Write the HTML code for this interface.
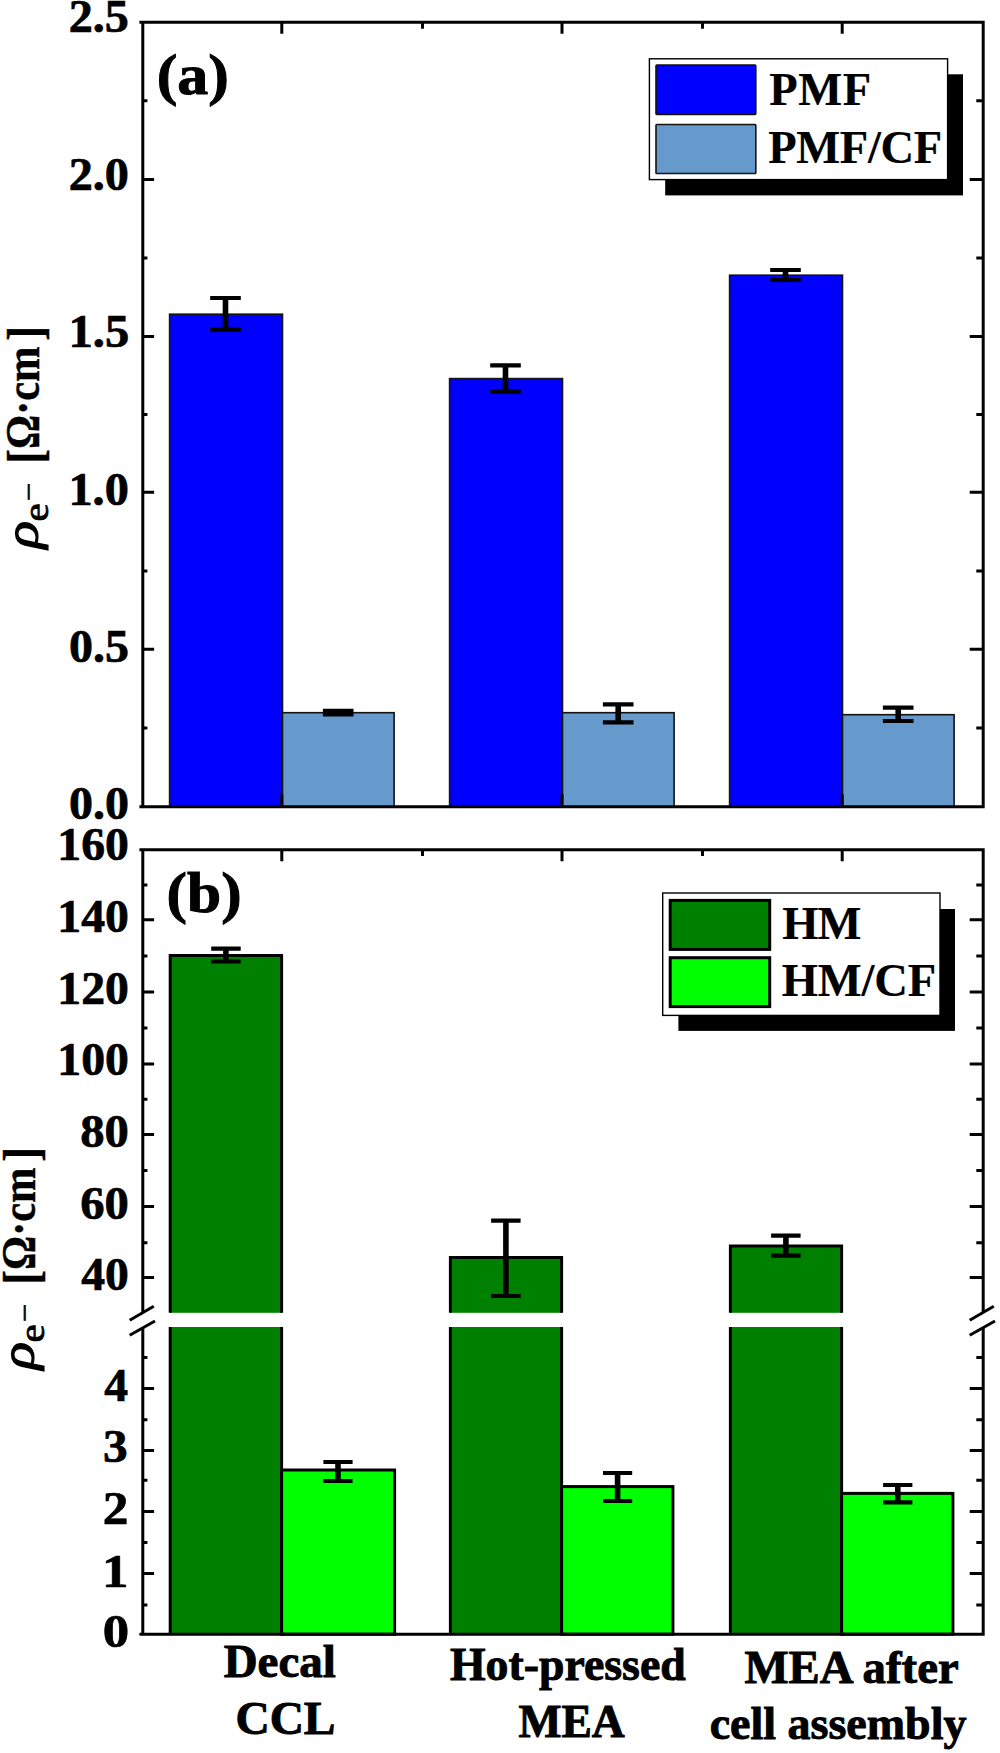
<!DOCTYPE html>
<html><head><meta charset="utf-8"><title>Electronic resistivity</title>
<style>
html,body{margin:0;padding:0;background:#fff;}
svg{display:block;}
text{font-family:"Liberation Serif", "DejaVu Serif", serif;font-weight:bold;fill:#000;}
</style></head><body>
<svg width="1000" height="1753" viewBox="0 0 1000 1753">
<rect x="0" y="0" width="1000" height="1753" fill="#fff"/>
<g id="panel-a">
<rect x="169.6" y="314.2" width="112.9" height="492.6" fill="#0000ff" stroke="#151210" stroke-width="1.6"/>
<rect x="282.5" y="712.7" width="111.6" height="94.1" fill="#6699cc" stroke="#151210" stroke-width="1.6"/>
<path d="M210.2 298.0H240.8M210.2 329.6H240.8" stroke="#000" stroke-width="4.2" fill="none"/><path d="M225.5 298.0V329.6" stroke="#000" stroke-width="5.6" fill="none"/>
<path d="M322.9 710.9H353.5M322.9 714.5H353.5" stroke="#000" stroke-width="4.2" fill="none"/><path d="M338.2 710.9V714.5" stroke="#000" stroke-width="5.6" fill="none"/>
<rect x="449.6" y="378.6" width="112.9" height="428.2" fill="#0000ff" stroke="#151210" stroke-width="1.6"/>
<rect x="562.5" y="712.7" width="111.6" height="94.1" fill="#6699cc" stroke="#151210" stroke-width="1.6"/>
<path d="M490.2 365.4H520.8M490.2 391.6H520.8" stroke="#000" stroke-width="4.2" fill="none"/><path d="M505.5 365.4V391.6" stroke="#000" stroke-width="5.6" fill="none"/>
<path d="M602.9 704.4H633.5M602.9 722.4H633.5" stroke="#000" stroke-width="4.2" fill="none"/><path d="M618.2 704.4V722.4" stroke="#000" stroke-width="5.6" fill="none"/>
<rect x="729.6" y="275.2" width="112.9" height="531.6" fill="#0000ff" stroke="#151210" stroke-width="1.6"/>
<rect x="842.5" y="714.7" width="111.6" height="92.1" fill="#6699cc" stroke="#151210" stroke-width="1.6"/>
<path d="M770.2 270.0H800.8M770.2 280.0H800.8" stroke="#000" stroke-width="4.2" fill="none"/><path d="M785.5 270.0V280.0" stroke="#000" stroke-width="5.6" fill="none"/>
<path d="M882.9 707.6H913.5M882.9 721.0H913.5" stroke="#000" stroke-width="4.2" fill="none"/><path d="M898.2 707.6V721.0" stroke="#000" stroke-width="5.6" fill="none"/>
<path d="M139.4 22.3H984.7M139.4 806.8H984.7M142.8 22.3V806.8M983.2 22.3V806.8" fill="none" stroke="#000" stroke-width="3.0"/>
<path d="M142.8 179.5H154.10000000000002M983.2 179.5H969.7M142.8 336.4H154.10000000000002M983.2 336.4H969.7M142.8 492.3H154.10000000000002M983.2 492.3H969.7M142.8 649.2H154.10000000000002M983.2 649.2H969.7M142.8 100.7H147.4M983.2 100.7H976.3000000000001M142.8 257.9H147.4M983.2 257.9H976.3000000000001M142.8 414.4H147.4M983.2 414.4H976.3000000000001M142.8 571.0H147.4M983.2 571.0H976.3000000000001M142.8 728.0H147.4M983.2 728.0H976.3000000000001M281.8 22.3V33.8M281.8 806.8V794.3M562 22.3V33.8M562 806.8V794.3M842.2 22.3V33.8M842.2 806.8V794.3M422.5 22.3V28.700000000000003M702.5 22.3V28.700000000000003" stroke="#000" stroke-width="3.0" fill="none"/>
<text transform="translate(68.70 32.45) scale(1.0593 1.0000)" font-size="45.5" stroke="#000" stroke-width="0.7">2.5</text>
<text transform="translate(68.70 189.60) scale(1.0596 1.0000)" font-size="45.5" stroke="#000" stroke-width="0.7">2.0</text>
<text transform="translate(68.45 347.10) scale(1.0680 1.0000)" font-size="45.5" stroke="#000" stroke-width="0.7">1.5</text>
<text transform="translate(68.45 505.00) scale(1.0616 1.0000)" font-size="45.5" stroke="#000" stroke-width="0.7">1.0</text>
<text transform="translate(68.95 662.00) scale(1.0544 1.0000)" font-size="45.5" stroke="#000" stroke-width="0.7">0.5</text>
<text transform="translate(68.95 818.55) scale(1.0546 1.0000)" font-size="45.5" stroke="#000" stroke-width="0.7">0.0</text>
<text transform="translate(156.65 94.45) scale(1.0770 1.0000)" font-size="57.5" stroke="#000" stroke-width="1.0">(a)</text>
<rect x="665.2" y="74.3" width="297.8" height="121.1" fill="#000"/>
<rect x="649.4" y="58.8" width="298.2" height="120.8" fill="#fff" stroke="#000" stroke-width="1.4"/>
<rect x="656" y="65.1" width="99.8" height="49.3" rx="0.8" fill="#0000ff" stroke="#151210" stroke-width="1.6"/>
<rect x="656" y="124.5" width="99.8" height="49" rx="0.8" fill="#6699cc" stroke="#151210" stroke-width="1.6"/>
<text transform="translate(769.25 105.00)" font-size="46.5" letter-spacing="0.625" stroke="#000" stroke-width="0.2">PMF</text>
<text transform="translate(768.25 162.60)" font-size="46.5" letter-spacing="-0.350" stroke="#000" stroke-width="0.2">PMF/CF</text>
</g>
<g id="panel-b">
<rect x="170.2" y="955.5" width="111.4" height="357.3" fill="#008000"/>
<rect x="170.2" y="1327.0" width="111.4" height="307.2" fill="#008000"/>
<path d="M170.2 1312.8V955.5H281.6V1312.8M170.2 1327.0V1634.2M281.6 1327.0V1634.2" fill="none" stroke="#000" stroke-width="3.0"/>
<rect x="281.6" y="1470" width="113.0" height="164.2" fill="#00ff00" stroke="#000" stroke-width="3.0"/>
<path d="M211.2 948.6H240.7M211.2 961.5H240.7" stroke="#000" stroke-width="4.2" fill="none"/><path d="M225.9 948.6V961.5" stroke="#000" stroke-width="5.6" fill="none"/>
<path d="M323.4 1462.0H352.6M323.4 1481.0H352.6" stroke="#000" stroke-width="4.2" fill="none"/><path d="M338.0 1462.0V1481.0" stroke="#000" stroke-width="5.6" fill="none"/>
<rect x="450.4" y="1257.4" width="111.2" height="55.4" fill="#008000"/>
<rect x="450.4" y="1327.0" width="111.2" height="307.2" fill="#008000"/>
<path d="M450.4 1312.8V1257.4H561.6V1312.8M450.4 1327.0V1634.2M561.6 1327.0V1634.2" fill="none" stroke="#000" stroke-width="3.0"/>
<rect x="561.6" y="1486.6" width="111.3" height="147.6" fill="#00ff00" stroke="#000" stroke-width="3.0"/>
<path d="M491.1 1220.6H520.6M491.1 1296.0H520.6" stroke="#000" stroke-width="4.2" fill="none"/><path d="M505.9 1220.6V1296.0" stroke="#000" stroke-width="5.6" fill="none"/>
<path d="M603.0 1473.0H632.2M603.0 1501.0H632.2" stroke="#000" stroke-width="4.2" fill="none"/><path d="M617.6 1473.0V1501.0" stroke="#000" stroke-width="5.6" fill="none"/>
<rect x="730.4" y="1246" width="111.2" height="66.8" fill="#008000"/>
<rect x="730.4" y="1327.0" width="111.2" height="307.2" fill="#008000"/>
<path d="M730.4 1312.8V1246H841.6V1312.8M730.4 1327.0V1634.2M841.6 1327.0V1634.2" fill="none" stroke="#000" stroke-width="3.0"/>
<rect x="841.6" y="1493.4" width="111.3" height="140.8" fill="#00ff00" stroke="#000" stroke-width="3.0"/>
<path d="M771.1 1235.6H800.6M771.1 1255.6H800.6" stroke="#000" stroke-width="4.2" fill="none"/><path d="M785.9 1235.6V1255.6" stroke="#000" stroke-width="5.6" fill="none"/>
<path d="M883.1 1485.0H912.4M883.1 1502.4H912.4" stroke="#000" stroke-width="4.2" fill="none"/><path d="M897.8 1485.0V1502.4" stroke="#000" stroke-width="5.6" fill="none"/>
<path d="M139.4 849.7H984.7M139.4 1634.2H984.7M142.8 849.7V1312.8M142.8 1327.0V1634.2M983.2 849.7V1312.8M983.2 1327.0V1634.2" fill="none" stroke="#000" stroke-width="3.0"/>
<path d="M129.7 1320.3L153.8 1306.2M129.7 1335.2L155 1321M969.7 1320.3L993.8 1306.2M969.7 1335.2L995 1321" stroke="#000" stroke-width="3" fill="none"/>
<path d="M142.8 919.8H154.10000000000002M983.2 919.8H969.7M142.8 991.9H154.10000000000002M983.2 991.9H969.7M142.8 1064.1H154.10000000000002M983.2 1064.1H969.7M142.8 1134.4H154.10000000000002M983.2 1134.4H969.7M142.8 1206.5H154.10000000000002M983.2 1206.5H969.7M142.8 1277.4H154.10000000000002M983.2 1277.4H969.7M142.8 1388.5H154.10000000000002M983.2 1388.5H969.7M142.8 1450.4H154.10000000000002M983.2 1450.4H969.7M142.8 1511.6H154.10000000000002M983.2 1511.6H969.7M142.8 1573.5H154.10000000000002M983.2 1573.5H969.7M142.8 885.0H147.4M983.2 885.0H976.3000000000001M142.8 956.0H147.4M983.2 956.0H976.3000000000001M142.8 1028.1H147.4M983.2 1028.1H976.3000000000001M142.8 1099.3H147.4M983.2 1099.3H976.3000000000001M142.8 1170.6H147.4M983.2 1170.6H976.3000000000001M142.8 1242.8H147.4M983.2 1242.8H976.3000000000001M142.8 1357.5H147.4M983.2 1357.5H976.3000000000001M142.8 1419.7H147.4M983.2 1419.7H976.3000000000001M142.8 1480.2H147.4M983.2 1480.2H976.3000000000001M142.8 1542.5H147.4M983.2 1542.5H976.3000000000001M142.8 1605.0H147.4M983.2 1605.0H976.3000000000001M281.8 849.7V861.2M562 849.7V861.2M842.2 849.7V861.2M422.5 849.7V856.1M702.5 849.7V856.1" stroke="#000" stroke-width="3.0" fill="none"/>
<text transform="translate(57.35 860.25) scale(1.0488 1.0000)" font-size="45.5" stroke="#000" stroke-width="0.7">160</text>
<text transform="translate(57.35 931.85) scale(1.0488 1.0000)" font-size="45.5" stroke="#000" stroke-width="0.7">140</text>
<text transform="translate(57.35 1004.25) scale(1.0488 1.0000)" font-size="45.5" stroke="#000" stroke-width="0.7">120</text>
<text transform="translate(57.35 1075.15) scale(1.0488 1.0000)" font-size="45.5" stroke="#000" stroke-width="0.7">100</text>
<text transform="translate(80.25 1147.15) scale(1.0702 1.0000)" font-size="45.5" stroke="#000" stroke-width="0.7">80</text>
<text transform="translate(80.25 1218.70) scale(1.0702 1.0000)" font-size="45.5" stroke="#000" stroke-width="0.7">60</text>
<text transform="translate(81.25 1289.70) scale(1.0457 1.0000)" font-size="45.5" stroke="#000" stroke-width="0.7">40</text>
<text transform="translate(104.25 1401.30) scale(1.0455 1.0000)" font-size="45.5" stroke="#000" stroke-width="0.7">4</text>
<text transform="translate(103.00 1462.30) scale(1.0864 1.0000)" font-size="45.5" stroke="#000" stroke-width="0.7">3</text>
<text transform="translate(102.75 1524.35) scale(1.1267 1.0000)" font-size="45.5" stroke="#000" stroke-width="0.7">2</text>
<text transform="translate(101.95 1586.85) scale(1.1654 1.0000)" font-size="45.5" stroke="#000" stroke-width="0.7">1</text>
<text transform="translate(102.65 1646.75) scale(1.1601 1.0000)" font-size="45.5" stroke="#000" stroke-width="0.7">0</text>
<text transform="translate(166.55 912.10) scale(1.0738 1.0000)" font-size="57.2" stroke="#000" stroke-width="1.0">(b)</text>
<rect x="678.4" y="909" width="276.6" height="121.9" fill="#000"/>
<rect x="662.7" y="893" width="277.3" height="122.4" fill="#fff" stroke="#000" stroke-width="1.4"/>
<rect x="670.2" y="900.4" width="99.5" height="49" fill="#008000" stroke="#000" stroke-width="3"/>
<rect x="670.2" y="957.7" width="99.5" height="48.9" fill="#00ff00" stroke="#000" stroke-width="3"/>
<text transform="translate(782.25 939.45)" font-size="46.5" letter-spacing="-1.000" stroke="#000" stroke-width="0.2">HM</text>
<text transform="translate(781.70 995.60)" font-size="46.5" letter-spacing="-0.137" stroke="#000" stroke-width="0.2">HM/CF</text>
</g>
<text transform="translate(223.75 1676.65) scale(1.0310 1.0000)" font-size="45.5" stroke="#000" stroke-width="0.9">Decal</text>
<text transform="translate(235.40 1733.85) scale(1.0419 1.0000)" font-size="45.5" stroke="#000" stroke-width="0.9">CCL</text>
<text transform="translate(449.95 1680.40) scale(1.0068 1.0000)" font-size="45.5" stroke="#000" stroke-width="0.9">Hot-pressed</text>
<text transform="translate(518.45 1737.10) scale(1.0019 1.0000)" font-size="45.5" stroke="#000" stroke-width="0.9">MEA</text>
<text transform="translate(744.40 1683.25) scale(1.0282 1.0000)" font-size="45.5" stroke="#000" stroke-width="0.9">MEA after</text>
<text transform="translate(709.70 1738.65) scale(1.0109 1.0000)" font-size="45.5" stroke="#000" stroke-width="0.9">cell assembly</text>
<text transform="translate(37.90 548.40) rotate(-90) scale(1.1442 0.9731)" font-size="50" font-style="italic" style="font-weight:normal" stroke="#000" stroke-width="1.2">ρ</text>
<text transform="translate(48.15 521.45) rotate(-90) scale(1.1037 0.9434)" font-size="37" style="font-weight:normal" stroke="#000" stroke-width="0.8">e</text>
<text transform="translate(37.70 500.80) rotate(-90) scale(1.1447 1.0000)" font-size="28" style="font-weight:normal" stroke="#000" stroke-width="0.7">−</text>
<text transform="translate(41.90 463.45) rotate(-90) scale(0.9450 1.0915)" font-size="46" stroke="#000" stroke-width="0.4">[</text>
<text transform="translate(38.85 449.10) rotate(-90) scale(0.9256 1.0560)" font-size="46" stroke="#000" stroke-width="0.4">Ω·cm</text>
<text transform="translate(41.90 341.10) rotate(-90) scale(0.9819 1.0915)" font-size="46" stroke="#000" stroke-width="0.4">]</text>
<text transform="translate(33.90 1369.40) rotate(-90) scale(1.1442 0.9731)" font-size="50" font-style="italic" style="font-weight:normal" stroke="#000" stroke-width="1.2">ρ</text>
<text transform="translate(44.15 1342.45) rotate(-90) scale(1.1037 0.9434)" font-size="37" style="font-weight:normal" stroke="#000" stroke-width="0.8">e</text>
<text transform="translate(33.70 1321.80) rotate(-90) scale(1.1447 1.0000)" font-size="28" style="font-weight:normal" stroke="#000" stroke-width="0.7">−</text>
<text transform="translate(37.90 1284.45) rotate(-90) scale(0.9450 1.0915)" font-size="46" stroke="#000" stroke-width="0.4">[</text>
<text transform="translate(34.85 1270.10) rotate(-90) scale(0.9256 1.0560)" font-size="46" stroke="#000" stroke-width="0.4">Ω·cm</text>
<text transform="translate(37.90 1162.10) rotate(-90) scale(0.9819 1.0915)" font-size="46" stroke="#000" stroke-width="0.4">]</text>
</svg></body></html>
